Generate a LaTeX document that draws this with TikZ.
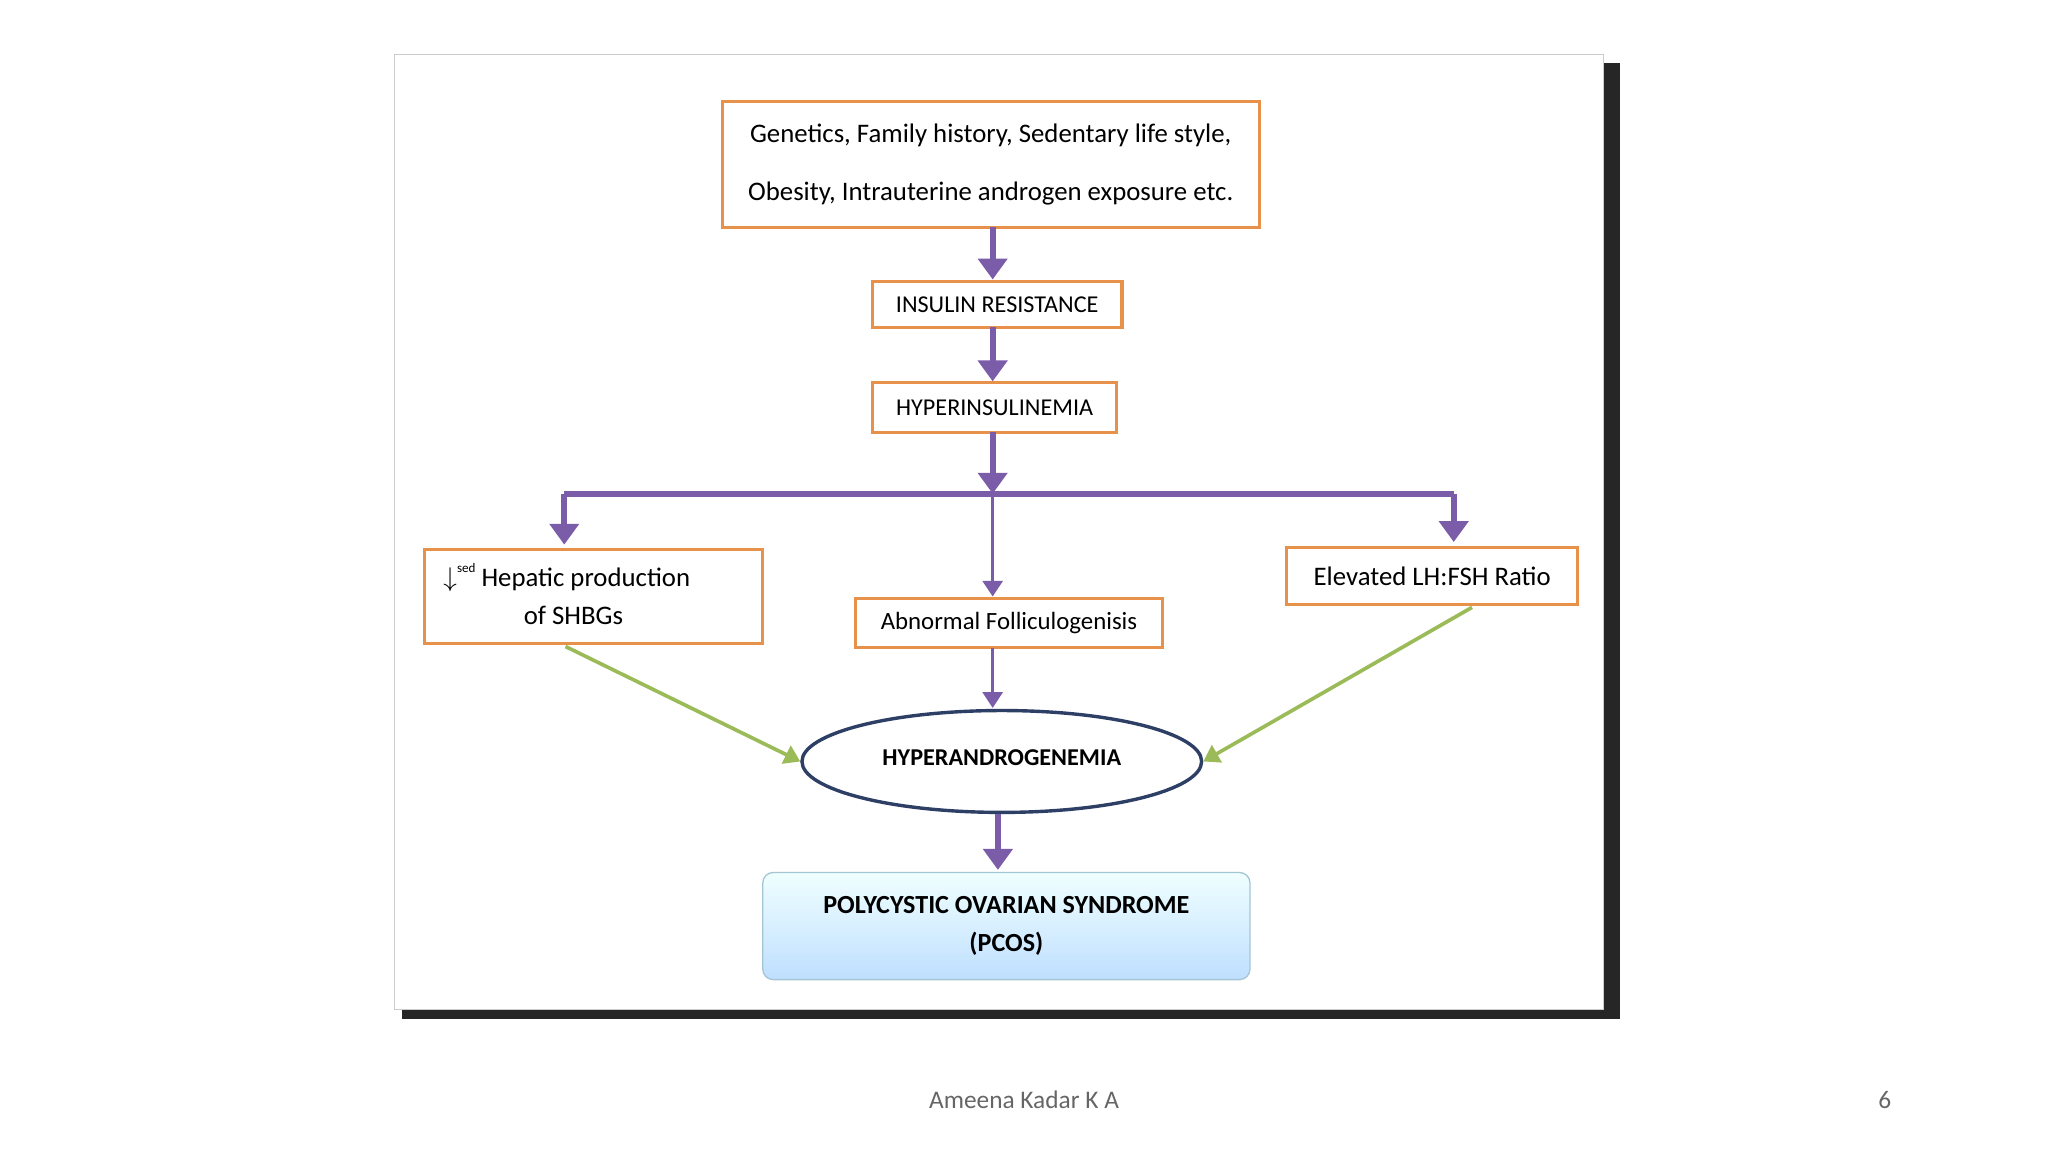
\documentclass[tikz,border=0pt]{standalone}
\usepackage{fontspec}
\setmainfont{Carlito}
\usetikzlibrary{arrows.meta,shapes.geometric,shadows.blur}
\definecolor{pur}{HTML}{7A5CA8}
\definecolor{org}{HTML}{E8914A}
\definecolor{grn}{HTML}{9BBB59}
\definecolor{elb}{HTML}{2E3F66}
\begin{document}
\begin{tikzpicture}[x=1pt,y=-1pt,
 box/.style={draw=org,line width=2.4pt,fill=white,font=\fontsize{20.5}{24}\selectfont,inner sep=0pt},
 parr/.style={draw=pur,line width=4.5pt,-{Triangle[length=16pt,width=22pt]}},
 tarr/.style={draw=pur,line width=2.8pt,-{Triangle[length=12pt,width=15pt]}},
 garr/.style={draw=grn,line width=2.8pt,-{Triangle[length=12pt,width=15pt]}}]
\useasboundingbox (0,0) rectangle (1568,882);
\fill[black!85] (308,48) rectangle (1240,780);
\fill[white] (302,42) rectangle (1228,773);
\draw[gray!40,line width=0.8pt] (302,42) rectangle (1228,773);
\node[box,minimum width=411pt,minimum height=96pt,align=center] (top) at (758.5,126)
 {Genetics, Family history, Sedentary life style,\\[20pt] Obesity, Intrauterine androgen exposure etc.};
\node[box,minimum width=191pt,minimum height=35pt,font=\fontsize{18.5}{22}\selectfont] (ir) at (763.5,233) {INSULIN RESISTANCE};
\node[box,minimum width=187pt,minimum height=38pt,font=\fontsize{18.5}{22}\selectfont] (hi) at (761.5,312) {HYPERINSULINEMIA};
\node[box,minimum width=259pt,minimum height=72pt] (sh) at (454.5,457) {};
\node[font=\fontsize{20.5}{24}\selectfont,anchor=west] (sht) at (336,442) {$\downarrow$\raisebox{1.1ex}{\fontsize{10}{11}\selectfont sed} Hepatic production};
\node[font=\fontsize{20.5}{24}\selectfont] (sht2) at (439,471) {of SHBGs};
\node[box,minimum width=235pt,minimum height=38pt,font=\fontsize{19}{22}\selectfont] (af) at (772.5,477) {Abnormal Folliculogenisis};
\node[box,minimum width=223pt,minimum height=44pt] (el) at (1096.5,441) {Elevated LH:FSH Ratio};
\node[ellipse,draw=elb,line width=2.6pt,minimum width=306pt,minimum height=78pt,font=\bfseries\fontsize{18.5}{22}\selectfont,inner sep=0pt] (ha) at (767,583) {\raisebox{6pt}{HYPERANDROGENEMIA}};
\node[draw=cyan!40!gray!60,line width=1pt,rounded corners=8pt,top color=cyan!6,bottom color=cyan!50!blue!25,minimum width=373pt,minimum height=82pt,align=center,font=\bfseries\fontsize{20}{29}\selectfont] (pc) at (770.5,709) {POLYCYSTIC OVARIAN SYNDROME\\(PCOS)};
\coordinate (j) at (760,378);
\coordinate (jl) at (432,378);
\coordinate (jr) at (1113,378);
\draw[parr] (760,174) -- (760,214);
\draw[parr] (760,250) -- (760,292);
\draw[draw=pur,line width=4.5pt] (jl) -- (jr);
\draw[parr] (760,331) -- (j);
\draw[parr] (jl) -- (432,417);
\draw[parr] (jr) -- (1113,415);
\draw[tarr] (j) -- (af.north -| j);
\draw[tarr] (760,496) -- (760,542);
\draw[garr] (433,495) -- (ha.west);
\draw[garr] (1127,465) -- (ha.east);
\draw[parr] (ha.south -| 764,0) -- (764,666);
\node[text=gray!80!black,font=\fontsize{19.4}{22}\selectfont] (ft) at (784,842) {Ameena Kadar K A};
\node[text=gray!80!black,font=\fontsize{19.4}{22}\selectfont] (pg) at (1443,842) {6};
\end{tikzpicture}
\end{document}
